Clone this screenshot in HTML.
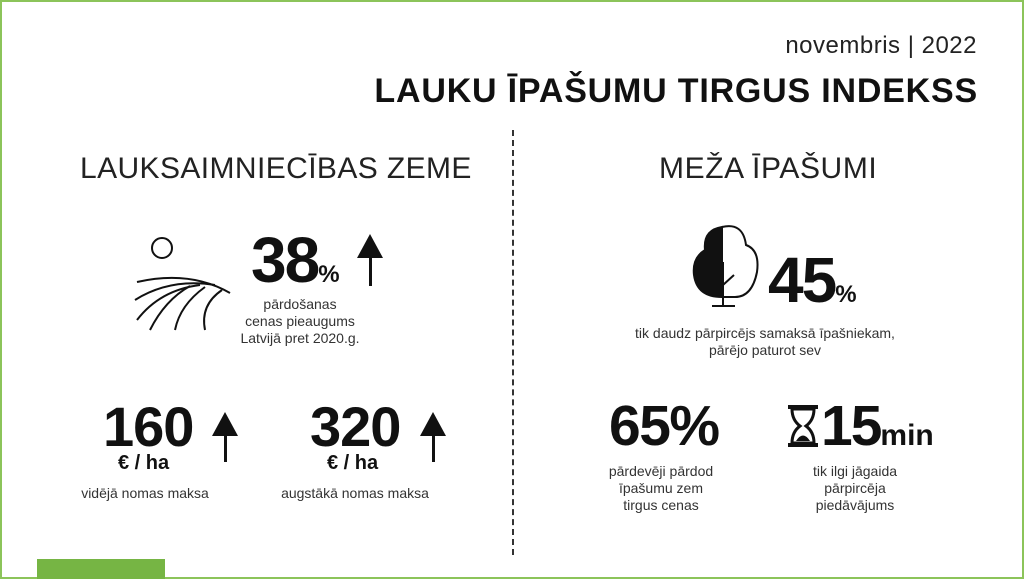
<!DOCTYPE html>
<html><head><meta charset="utf-8"><style>
html,body{margin:0;padding:0}
body{width:1024px;height:579px;position:relative;background:#fff;overflow:hidden;font-family:"Liberation Sans",sans-serif;color:#111}
.frame{position:absolute;left:0;top:0;width:1020px;height:575px;border:2px solid #8cc45a}
.a{position:absolute;white-space:nowrap}
.big{font-weight:bold;letter-spacing:-2px;line-height:1}
.sm{font-size:14px;color:#333;text-align:center;line-height:17px}
</style></head><body>
<div class="frame"></div>
<div style="position:absolute;left:37px;top:559px;width:128px;height:20px;background:#76b544"></div>
<div class="a" style="right:47px;top:32px;font-size:24px;color:#222;letter-spacing:0.5px">novembris | 2022</div>
<div class="a" style="right:46px;top:72px;font-size:34px;font-weight:bold;letter-spacing:0.8px">LAUKU ĪPAŠUMU TIRGUS INDEKSS</div>
<div style="position:absolute;left:512px;top:130px;height:425px;border-left:2px dashed #333"></div>
<div class="a" style="left:80px;top:152px;font-size:30px;color:#222;letter-spacing:0.4px">LAUKSAIMNIECĪBAS ZEME</div>
<div class="a" style="left:659px;top:152px;font-size:30px;color:#222;letter-spacing:0.6px">MEŽA ĪPAŠUMI</div>
<svg class="a" style="left:0;top:0" width="1024" height="579">
<g fill="none" stroke="#111" stroke-width="2">
<circle cx="162" cy="248" r="10"/>
<path d="M137 282 Q190 270 230 293"/>
<path d="M135 300 Q170 278 215 285"/>
<path d="M137 320 Q160 290 200 285"/>
<path d="M150 330 Q165 300 190 286"/>
<path d="M175 330 Q180 305 205 287"/>
<path d="M205 330 Q200 305 222 290"/>
<path d="M722 227 Q703 230 705 250 Q692 258 694 275 Q697 297 722 297 Z" fill="#111"/>
<path d="M722 227 Q743 222 746 245 Q760 250 757 272 Q752 297 735 297 L722 297"/>
<path d="M723 262 V305 M723 285 L734 275 M712 306 H735"/>
</g>
<g fill="#111">
<rect x="369" y="250" width="3" height="36"/><polygon points="370,234 357,258 383,258"/>
<rect x="224" y="428" width="3" height="34"/><polygon points="225,412 212,436 238,436"/>
<rect x="432" y="428" width="3" height="34"/><polygon points="433,412 420,436 446,436"/>
<rect x="788" y="405" width="30" height="4"/><rect x="788" y="443" width="30" height="4"/>
<path d="M792 409 H814 Q814 420 806 426 Q814 432 814 443 H792 Q792 432 800 426 Q792 420 792 409Z" fill="none" stroke="#111" stroke-width="3"/>
<path d="M796 441 Q803 430 810 441Z"/>
</g>
</svg>
<div class="a big" style="left:251px;top:228px;font-size:64px">38<span style="font-size:24px;letter-spacing:0">%</span></div>
<div class="a sm" style="left:230px;top:296px;width:140px">pārdošanas<br>cenas pieaugums<br>Latvijā pret 2020.g.</div>
<div class="a big" style="left:768px;top:248px;font-size:64px">45<span style="font-size:24px;letter-spacing:0">%</span></div>
<div class="a sm" style="left:590px;top:325px;width:350px">tik daudz pārpircējs samaksā īpašniekam,<br>pārējo paturot sev</div>
<div class="a big" style="left:103px;top:399px;font-size:56px;letter-spacing:-1px">160</div>
<div class="a" style="left:118px;top:452px;font-size:20px;font-weight:bold">€ / ha</div>
<div class="a sm" style="left:60px;top:485px;width:170px">vidējā nomas maksa</div>
<div class="a big" style="left:310px;top:399px;font-size:56px;letter-spacing:-1px">320</div>
<div class="a" style="left:327px;top:452px;font-size:20px;font-weight:bold">€ / ha</div>
<div class="a sm" style="left:270px;top:485px;width:170px">augstākā nomas maksa</div>
<div class="a big" style="left:609px;top:398px;font-size:57px;letter-spacing:-1.5px">65%</div>
<div class="a sm" style="left:596px;top:463px;width:130px">pārdevēji pārdod<br>īpašumu zem<br>tirgus cenas</div>
<div class="a big" style="left:821px;top:398px;font-size:57px">15<span style="font-size:30px;letter-spacing:0">min</span></div>
<div class="a sm" style="left:790px;top:463px;width:130px">tik ilgi jāgaida<br>pārpircēja<br>piedāvājums</div>
</body></html>
